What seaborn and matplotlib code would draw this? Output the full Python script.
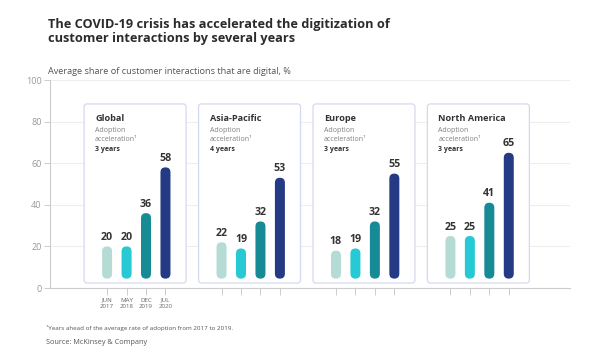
import numpy as np
import pandas as pd
import matplotlib
matplotlib.use("Agg")
import matplotlib.pyplot as plt
from matplotlib.patches import FancyBboxPatch
import seaborn as sns

# data
regions = ["Global", "Asia-Pacific", "Europe", "North America"]
periods = ["JUN\n2017", "MAY\n2018", "DEC\n2019", "JUL\n2020"]
global_vals = [20, 20, 36, 58]
asia_vals = [22, 19, 32, 53]
europe_vals = [18, 19, 32, 55]
namerica_vals = [25, 25, 41, 65]
accel_years = ["3 years", "4 years", "3 years", "3 years"]

colors = ["#b5dcd4", "#26c9d4", "#168b95", "#243a84"]

rows = []
for reg, vals in zip(regions, [global_vals, asia_vals, europe_vals, namerica_vals]):
    for per, v in zip(periods, vals):
        rows.append({"region": reg, "period": per, "value": v})
df = pd.DataFrame(rows)

sns.set_theme(style="white")
plt.rcParams["font.family"] = ["Open Sans", "DejaVu Sans"]

fig = plt.figure(figsize=(5.92, 3.6), dpi=100)
ax = fig.add_axes([50 / 592, 72 / 360, 520 / 592, 208 / 360])

sns.barplot(data=df, x="region", y="value", hue="period", order=regions,
            hue_order=periods, palette=colors, saturation=1, width=0.68,
            gap=0.486, legend=False, ax=ax, zorder=3)

ax.set_xlim(-0.754, 3.79)
ax.set_ylim(0, 100)

# rounded bars
aspect = 55
bar_bottom = 4.5
centers = []
for p in list(ax.patches):
    x, w, h = p.get_x(), p.get_width(), p.get_height()
    fc = p.get_facecolor()
    p.remove()
    centers.append(x + w / 2)
    rb = FancyBboxPatch((x, bar_bottom), w, h - bar_bottom,
                        boxstyle=f"round,pad=0,rounding_size={w / 2}",
                        mutation_aspect=aspect, facecolor=fc,
                        edgecolor="none", zorder=3)
    ax.add_patch(rb)
    ax.annotate(f"{h:.0f}", (x + w / 2, h), xytext=(0, 2.5),
                textcoords="offset points", ha="center", va="bottom",
                fontsize=7.7, fontweight="bold", color="#333333")

# panel boxes
for i, reg in enumerate(regions):
    box = FancyBboxPatch((i - 0.456, 2.4), 0.891, 86.1,
                         boxstyle="round,pad=0,rounding_size=0.026",
                         mutation_aspect=aspect, facecolor="white",
                         edgecolor="#d5d9ef", linewidth=0.9, zorder=1)
    ax.add_patch(box)
    tx = i - 0.36
    ax.text(tx, 81.7, reg, fontsize=6.6, fontweight="bold", color="#333333",
            va="center", ha="left")
    ax.text(tx, 75.5, "Adoption", fontsize=5, color="#808080", va="center")
    ax.text(tx, 71.2, "acceleration\u00b9", fontsize=5, color="#808080",
            va="center")
    ax.text(tx, 66.8, accel_years[i], fontsize=5, fontweight="bold",
            color="#333333", va="center")

# axes styling
ax.set_xlabel("")
ax.set_ylabel("")
ax.set_yticks([0, 20, 40, 60, 80, 100])
ax.yaxis.grid(True, color="#eeeeee", linewidth=0.8)
ax.set_axisbelow(True)
centers = sorted(centers)
ax.set_xticks(centers)
ax.set_xticklabels(periods + [""] * (len(centers) - 4))
ax.tick_params(axis="x", length=5, width=0.7, color="#cccccc",
               labelsize=4.4, labelcolor="#666666", pad=2, bottom=True)
ax.tick_params(axis="y", length=4, width=0.7, color="#cccccc",
               labelsize=6.5, labelcolor="#999999", pad=2, left=True)
for s in ["top", "right"]:
    ax.spines[s].set_visible(False)
for s in ["left", "bottom"]:
    ax.spines[s].set_color("#cccccc")
    ax.spines[s].set_linewidth(0.8)

# titles and notes
fig.text(48 / 592, 1 - 18 / 360,
         "The COVID-19 crisis has accelerated the digitization of\ncustomer interactions by several years",
         fontsize=9.2, fontweight="bold", color="#2b2b2b", va="top",
         ha="left", linespacing=1.1)
fig.text(48 / 592, 1 - 71 / 360,
         "Average share of customer interactions that are digital, %",
         fontsize=6.6, color="#555555", va="center", ha="left")
fig.text(46 / 592, 1 - 328 / 360,
         "\u00b9Years ahead of the average rate of adoption from 2017 to 2019.",
         fontsize=4.5, color="#555555", va="center", ha="left")
fig.text(46 / 592, 1 - 342 / 360, "Source: McKinsey & Company",
         fontsize=5.2, color="#555555", va="center", ha="left")

fig.savefig("out.png", dpi=100, facecolor="white")
